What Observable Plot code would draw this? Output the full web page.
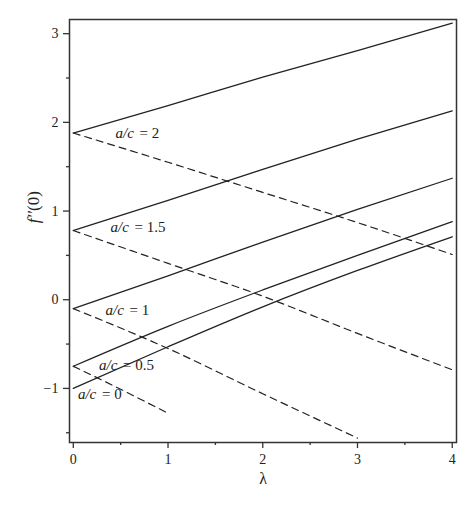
<!DOCTYPE html>
<html>
<head>
<meta charset="utf-8">
<script src="https://cdn.jsdelivr.net/npm/d3@7"></script>
<script src="https://cdn.jsdelivr.net/npm/@observablehq/plot@0.6"></script>
<style>
  body { margin: 0; background: #fff; }
  #chart svg { display: block; }
</style>
</head>
<body>
<div id="chart"></div>
<script>
// ---- data ----
const ratios = ["2", "1.5", "1", "0.5", "0"];

// solid curves: lambda grid and f''(0) values
const solidLambda = [0, 1, 2, 3, 4];
const solid_2   = [1.88, 2.19, 2.51, 2.81, 3.12];
const solid_1_5 = [0.78, 1.12, 1.47, 1.81, 2.13];
const solid_1   = [-0.10, 0.27, 0.65, 1.02, 1.37];
const solid_0_5 = [-0.75, -0.30, 0.11, 0.50, 0.88];
const solid_0   = [-1.00, -0.53, -0.08, 0.33, 0.71];

// dashed curves (second branch)
const dashLambda_2   = [0, 1, 2, 3, 4];
const dashed_2       = [1.88, 1.55, 1.21, 0.87, 0.51];
const dashLambda_1_5 = [0, 1, 2, 3, 4];
const dashed_1_5     = [0.78, 0.41, 0.04, -0.38, -0.79];
const dashLambda_1   = [0, 1, 2, 3];
const dashed_1       = [-0.10, -0.55, -1.06, -1.56];
const dashLambda_0_5 = [0, 0.5, 1];
const dashed_0_5     = [-0.75, -1.01, -1.28];

// curve labels
const labelRatio = ["2", "1.5", "1", "0.5", "0"];
const labelLambda = [0.446, 0.394, 0.341, 0.271, 0.049];
const labelValue  = [1.873, 0.816, -0.123, -0.743, -1.07];

// axis ticks
const xTicks = [0, 1, 2, 3, 4];
const xMinor = [0.5, 1.5, 2.5, 3.5];
const yTicks = [-1, 0, 1, 2, 3];
const yMinor = [-1.5, -0.5, 0.5, 1.5, 2.5];

// ---- build tables ----
const solidSeries = [solid_2, solid_1_5, solid_1, solid_0_5, solid_0];
const solidRows = [];
solidSeries.forEach((vals, i) => vals.forEach((v, j) =>
  solidRows.push({ratio: ratios[i], lambda: solidLambda[j], value: v})));

const dashedSeries = [
  [dashLambda_2, dashed_2], [dashLambda_1_5, dashed_1_5],
  [dashLambda_1, dashed_1], [dashLambda_0_5, dashed_0_5]
];
const dashedRows = [];
dashedSeries.forEach(([ls, vals], i) => vals.forEach((v, j) =>
  dashedRows.push({ratio: ratios[i], lambda: ls[j], value: v})));

const labels = labelRatio.map((r, i) => ({ratio: r, lambda: labelLambda[i], value: labelValue[i]}));

const serif = "'Liberation Serif', 'Times New Roman', serif";
const ink = "#222";
const intFmt = d => (d < 0 ? "\u2212" : "") + Math.abs(d);

const chart = Plot.plot({
  width: 474,
  height: 506,
  marginLeft: 69,
  marginRight: 18,
  marginTop: 19,
  marginBottom: 64,
  style: {fontFamily: serif, background: "#fff", color: ink},
  x: {domain: [-0.04, 4.045]},
  y: {domain: [-1.61, 3.16]},
  marks: [
    Plot.line(solidRows, {x: "lambda", y: "value", z: "ratio", stroke: ink, strokeWidth: 1.3, curve: "monotone-x"}),
    Plot.line(dashedRows, {x: "lambda", y: "value", z: "ratio", stroke: ink, strokeWidth: 1.2, strokeDasharray: "7,5", curve: "monotone-x"}),
    Plot.frame({stroke: "#333", strokeWidth: 1.5}),
    Plot.axisY(yTicks, {tickSize: 6, tickPadding: 5, fontSize: 14, fontFamily: serif, tickFormat: intFmt, label: null, stroke: "#333", strokeWidth: 1.3}),
    Plot.axisY(yMinor, {tickSize: 3, tickFormat: () => "", label: null, stroke: "#333", strokeWidth: 1.3}),
    Plot.axisX(xTicks, {tickSize: 6, tickPadding: 6, fontSize: 14, fontFamily: serif, tickFormat: intFmt, label: null, stroke: "#333", strokeWidth: 1.3}),
    Plot.axisX(xMinor, {tickSize: 3, tickFormat: () => "", label: null, stroke: "#333", strokeWidth: 1.3}),
    // curve labels
    Plot.text(labels, {x: "lambda", y: "value", text: () => "a/c", fontStyle: "italic", textAnchor: "start", fontSize: 15, fontFamily: serif, fill: ink}),
    Plot.text(labels, {x: "lambda", y: "value", text: d => "= " + d.ratio, textAnchor: "start", dx: 24, fontSize: 15, fontFamily: serif, fill: ink}),
    // axis titles
    Plot.text(["λ"], {frameAnchor: "bottom", dy: 41, fontSize: 16, fontFamily: serif, fill: ink}),
    Plot.text(["f\u2032\u2032"], {frameAnchor: "left", dx: -36, dy: -20, rotate: -90, textAnchor: "end", fontStyle: "italic", fontSize: 17, fontFamily: serif, fill: ink}),
    Plot.text(["(0)"], {frameAnchor: "left", dx: -36, dy: -20, rotate: -90, textAnchor: "start", fontSize: 17, fontFamily: serif, fill: ink})
  ]
});
document.getElementById("chart").appendChild(chart);
</script>
</body>
</html>
